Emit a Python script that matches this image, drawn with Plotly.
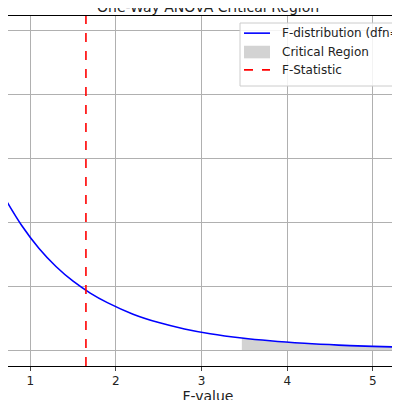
import plotly.graph_objects as go

# F-distribution density (dfn=2, dfd=21)
f_x = [0.7, 0.9, 1.1, 1.3, 1.5, 1.7, 1.9, 2.2, 2.5, 2.8, 3.1, 3.47, 3.8, 4.2, 4.6, 5.0, 5.5]
f_pdf = [0.476, 0.389, 0.318, 0.261, 0.215, 0.178, 0.148, 0.112, 0.0857, 0.0659,
         0.0510, 0.0375, 0.0287, 0.0209, 0.0153, 0.0114, 0.0079]
f_critical = 3.47
f_statistic = 1.65
dfn, dfd = 2, 21
legend_labels = ["F-distribution (dfn=%d, dfd=%d)" % (dfn, dfd), "Critical Region", "F-Statistic"]

crit_x = [x for x in f_x if x >= f_critical]
crit_y = [y for x, y in zip(f_x, f_pdf) if x >= f_critical]

fig = go.Figure()
fig.add_trace(go.Scatter(x=crit_x, y=crit_y, fill="tozeroy", mode="none",
                         fillcolor="rgb(211,211,211)", line_shape="spline"))
fig.add_trace(go.Scatter(x=f_x, y=f_pdf, mode="lines", line=dict(color="blue", width=1.6, shape="spline")))
fig.add_trace(go.Scatter(x=[f_statistic, f_statistic], y=[-0.05, 1.044], mode="lines",
                         line=dict(color="red", width=1.6, dash="dash")))

# hand-made legend (matplotlib style, running off the right edge)
shapes = [dict(type="rect", xref="paper", yref="paper", x0=0.58, x1=1.05, y0=0.8, y1=0.98,
               fillcolor="rgba(255,255,255,0.85)", line=dict(color="#ccc", width=1))]
rows = [0.951, 0.897, 0.846]
shapes.append(dict(type="line", xref="paper", yref="paper", x0=0.59, x1=0.655, y0=rows[0], y1=rows[0],
                   line=dict(color="blue", width=1.6)))
shapes.append(dict(type="rect", xref="paper", yref="paper", x0=0.59, x1=0.655, y0=rows[1] - 0.018,
                   y1=rows[1] + 0.018, fillcolor="rgb(211,211,211)", line=dict(width=0)))
shapes.append(dict(type="line", xref="paper", yref="paper", x0=0.59, x1=0.655, y0=rows[2], y1=rows[2],
                   line=dict(color="red", width=1.6, dash="dash")))
annotations = [dict(text=t, x=0.68, y=r, xref="paper", yref="paper", xanchor="left", yanchor="middle",
                    showarrow=False, font=dict(size=12)) for t, r in zip(legend_labels, rows)]
annotations.append(dict(text="One-Way ANOVA Critical Region", x=0.5, y=1, xref="paper", yref="paper",
                        yanchor="bottom", yshift=-1, showarrow=False, font=dict(size=14)))

fig.update_layout(
    width=400, height=400, plot_bgcolor="white", paper_bgcolor="white",
    margin=dict(l=0, r=0, t=8, b=42),
    font=dict(family="DejaVu Sans", size=12, color="#222"),
    showlegend=False, shapes=shapes, annotations=annotations,
)
fig.update_xaxes(range=[0.74, 5.41], tickvals=[1, 2, 3, 4, 5], showgrid=True, gridcolor="#b0b0b0",
                 showline=True, linecolor="black", mirror=True, ticks="outside", ticklen=4,
                 title=dict(text="F-value", standoff=2), zeroline=False)
fig.update_yaxes(range=[-0.05, 1.044], tickvals=[0, 0.2, 0.4, 0.6, 0.8, 1.0], showticklabels=False,
                 showgrid=True, gridcolor="#b0b0b0", showline=True, linecolor="black", mirror=True,
                 zeroline=False)

fig.write_html("out.html")
